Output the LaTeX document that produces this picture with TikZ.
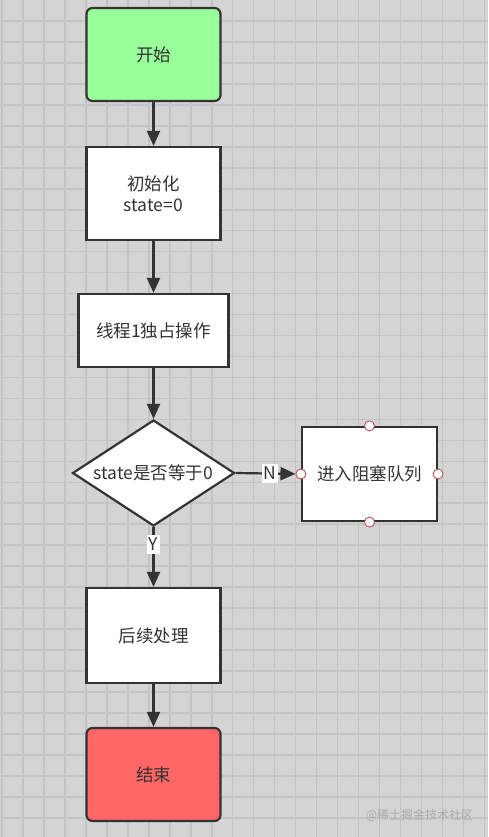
\documentclass[tikz,border=0pt]{standalone}
\usepackage{fontspec}
\setmainfont{Noto Sans CJK SC}
\usetikzlibrary{arrows.meta,shapes.geometric}
\definecolor{sfondo}{RGB}{212,212,212}
\definecolor{righe}{RGB}{196,196,196}
\definecolor{scuro}{RGB}{51,51,51}
\definecolor{verde}{RGB}{153,255,153}
\definecolor{rosso}{RGB}{255,102,102}
\definecolor{bordino}{RGB}{184,84,80}
\definecolor{marchio}{RGB}{170,170,170}
\tikzset{
  blocco/.style={draw=scuro, line width=2.2pt, fill=white, text=scuro, font=\fontsize{17.5}{21}\selectfont, align=center, inner sep=0pt},
  freccia/.style={draw=scuro, line width=2.2pt, -{Triangle[length=15pt,width=13pt]}},
  etichetta/.style={fill=white, text=scuro, font=\fontsize{17.5}{21}\selectfont, inner xsep=1.5pt, inner ysep=3pt},
  punto/.style={circle, draw=bordino, line width=0.9pt, fill=white, minimum size=10pt, inner sep=0pt}
}
\begin{document}
\begin{tikzpicture}[x=1pt,y=-1pt]
        %sfondo e griglia
        \useasboundingbox (0,0) rectangle (488,837);
        \fill[sfondo] (0,0) rectangle (488,837);
        \foreach \i in {0,...,23} \draw[righe, line width=1.6pt] ({2+\i*20.97},0) -- ({2+\i*20.97},837);
        \foreach \i in {1,...,39} \draw[righe, line width=1.6pt] (0,{\i*20.97}) -- (488,{\i*20.97});
        %blocchi
        \node[blocco, rounded corners=6pt, fill=verde, minimum width=134pt, minimum height=93pt] (inizio) at (153.5,54.5) {开始};
        \node[blocco, minimum width=134pt, minimum height=93pt] (init) at (153.5,193.5) {初始化\\state=0};
        \node[blocco, minimum width=150pt, minimum height=73pt] (thread) at (153.5,330.5) {线程1独占操作};
        \node[blocco, diamond, aspect=1.53, minimum width=162pt, minimum height=106pt] (scelta) at (153.5,473) {state是否等于0};
        \node[blocco, minimum width=135pt, minimum height=94pt] (coda) at (369.5,474) {进入阻塞队列};
        \node[blocco, minimum width=134pt, minimum height=95pt] (dopo) at (153.5,635.5) {后续处理};
        \node[blocco, rounded corners=6pt, fill=rosso, minimum width=134pt, minimum height=93pt] (fine) at (153.5,774.5) {结束};
        %punti di connessione
        \node[punto] (pN) at (coda.north) {};
        \node[punto] (pS) at (coda.south) {};
        \node[punto] (pW) at (coda.west) {};
        \node[punto] (pE) at (coda.east) {};
        %frecce
        \draw[freccia] (inizio) -- (init);
        \draw[freccia] (init) -- (thread);
        \draw[freccia] (thread) -- (scelta);
        \draw[freccia] (scelta.east) -- (pW) node[etichetta, pos=0.57]{N};
        \draw[freccia] (scelta.south) -- (dopo) node[etichetta, pos=0.29]{Y};
        \draw[freccia] (dopo) -- (fine);
        %marchio
        \node[text=marchio, font=\fontsize{12}{14}\selectfont] (firma) at (419.5,815) {@稀土掘金技术社区};
\end{tikzpicture}
\end{document}
